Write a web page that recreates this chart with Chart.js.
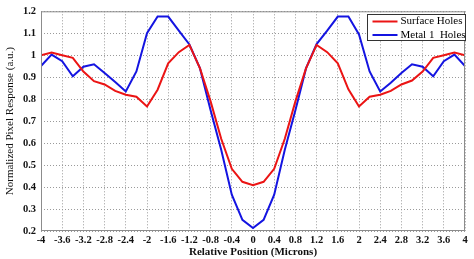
<!DOCTYPE html>
<html>
<head>
<meta charset="utf-8">
<script src="https://cdn.jsdelivr.net/npm/chart.js@4/dist/chart.umd.min.js"></script>
<style>
  html, body { margin: 0; padding: 0; background: #fff; }
  #wrap { width: 474px; height: 259px; }
</style>
</head>
<body>
<div id="wrap"><canvas id="respChart" width="474" height="259"></canvas></div>
<script>
// Sample positions (microns)
const positions = [-4, -3.8, -3.6, -3.4, -3.2, -3, -2.8, -2.6, -2.4, -2.2, -2,
  -1.8, -1.6, -1.4, -1.2, -1, -0.8, -0.6, -0.4, -0.2, 0,
  0.2, 0.4, 0.6, 0.8, 1, 1.2, 1.4, 1.6, 1.8, 2,
  2.2, 2.4, 2.6, 2.8, 3, 3.2, 3.4, 3.6, 3.8, 4];

const surfaceHoles = [1.0, 1.012, 1.0, 0.988, 0.926, 0.882, 0.867, 0.838, 0.82, 0.811, 0.767,
  0.843, 0.963, 1.014, 1.047, 0.94, 0.79, 0.62, 0.483, 0.424, 0.409,
  0.424, 0.483, 0.62, 0.79, 0.94, 1.047, 1.014, 0.963, 0.845, 0.767,
  0.811, 0.82, 0.838, 0.867, 0.885, 0.926, 0.988, 1.0, 1.012, 1.0];

const metal1Holes = [0.951, 1.003, 0.973, 0.904, 0.948, 0.959, 0.919, 0.878, 0.835, 0.926, 1.1,
  1.176, 1.176, 1.112, 1.049, 0.94, 0.75, 0.57, 0.365, 0.251, 0.214,
  0.251, 0.365, 0.57, 0.75, 0.94, 1.051, 1.112, 1.176, 1.176, 1.095,
  0.926, 0.835, 0.875, 0.919, 0.959, 0.948, 0.904, 0.973, 1.003, 0.951];

const seriesNames = ['Surface Holes', 'Metal 1  Holes'];
const seriesColors = ['rgb(235,20,20)', 'rgb(20,20,225)'];

const serif = "'Liberation Serif', 'Times New Roman', serif";

function toPoints(ys) {
  return positions.map((x, i) => ({ x: x, y: ys[i] }));
}

// frame round the plot area + legend box inside it (MATLAB style)
const framePlugin = {
  id: 'frame',
  afterDraw(chart) {
    const ctx = chart.ctx;
    const a = chart.chartArea;
    ctx.save();
    ctx.strokeStyle = '#8c8c8c';
    ctx.lineWidth = 1;
    ctx.strokeRect(a.left + 0.5, a.top + 0.5, a.right - a.left - 1, a.bottom - a.top - 1);

    // legend
    const boxW = 98, boxH = 26;
    const bx = Math.round(a.right - boxW) + 0.5;
    const by = Math.round(a.top + 3) + 0.5;
    ctx.fillStyle = '#fff';
    ctx.fillRect(bx, by, boxW, boxH);
    ctx.strokeStyle = '#333';
    ctx.strokeRect(bx, by, boxW, boxH);
    ctx.font = '11px ' + serif;
    ctx.textBaseline = 'middle';
    chart.data.datasets.forEach((ds, i) => {
      const cy = by + 7 + i * 13.5;
      ctx.strokeStyle = ds.borderColor;
      ctx.lineWidth = 2;
      ctx.beginPath();
      ctx.moveTo(bx + 5, cy);
      ctx.lineTo(bx + 30, cy);
      ctx.stroke();
      ctx.fillStyle = '#000';
      ctx.fillText(ds.label, bx + 33, cy);
    });
    ctx.restore();
  }
};

const ctx = document.getElementById('respChart').getContext('2d');
const chart = new Chart(ctx, {
  type: 'line',
  data: {
    datasets: [
      {
        label: seriesNames[0],
        data: toPoints(surfaceHoles),
        borderColor: seriesColors[0],
        borderWidth: 2,
        pointRadius: 0,
        tension: 0
      },
      {
        label: seriesNames[1],
        data: toPoints(metal1Holes),
        borderColor: seriesColors[1],
        borderWidth: 2,
        pointRadius: 0,
        tension: 0
      }
    ]
  },
  options: {
    responsive: false,
    animation: false,
    layout: { padding: { top: 4, right: 9, bottom: 0, left: 0 } },
    plugins: {
      legend: { display: false },
      tooltip: { enabled: false }
    },
    scales: {
      x: {
        type: 'linear',
        min: -4,
        max: 4,
        afterFit(scale) { scale.height = 28; },
        afterBuildTicks(scale) {
          scale.ticks = positions.filter((p, i) => i % 2 === 0).map(v => ({ value: v }));
        },
        grid: {
          color: '#9a9a9a',
          lineWidth: 1,
          drawTicks: false
        },
        border: { display: false, dash: [1, 2] },
        ticks: {
          padding: 3,
          color: '#111',
          font: { family: serif, size: 10.5, weight: 'bold' },
          maxRotation: 0,
          autoSkip: false,
          callback: v => String(Number(v.toFixed(1)))
        },
        title: {
          display: true,
          text: 'Relative Position (Microns)',
          color: '#111',
          font: { family: serif, size: 11, weight: 'bold' },
          padding: { top: 0, bottom: 0 }
        }
      },
      y: {
        min: 0.2,
        max: 1.2,
        afterFit(scale) { scale.width = 41; },
        grid: {
          color: '#9a9a9a',
          lineWidth: 1,
          drawTicks: false
        },
        border: { display: false, dash: [1, 2] },
        ticks: {
          stepSize: 0.1,
          padding: 5,
          color: '#111',
          font: { family: serif, size: 10.5, weight: 'bold' },
          callback: v => String(Number(v.toFixed(1)))
        },
        title: {
          display: true,
          text: 'Normalized Pixel Response (a.u.)',
          color: '#111',
          font: { family: serif, size: 11 },
          padding: { top: 4, bottom: 0 }
        }
      }
    }
  },
  plugins: [framePlugin]
});
</script>
</body>
</html>
